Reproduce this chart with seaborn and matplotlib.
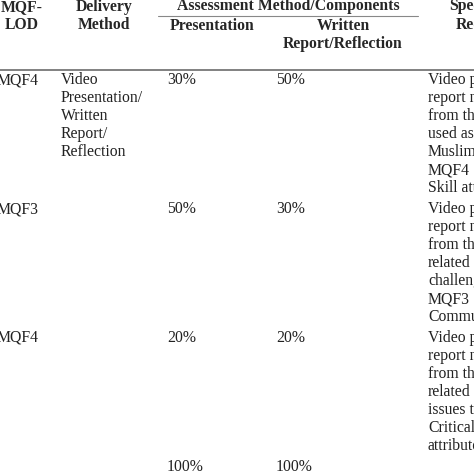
import matplotlib
matplotlib.use("Agg")
import matplotlib.pyplot as plt
import seaborn as sns

sns.set_theme(style="white")
plt.rcParams['font.family'] = ['Liberation Serif', 'DejaVu Serif']

lod = ["MQF4", "MQF3", "MQF4"]
delivery = ["Video\nPresentation/\nWritten\nReport/\nReflection", "", ""]
presentation = ["30%", "50%", "20%"]
written = ["50%", "30%", "20%"]
totals = ["100%", "100%"]
specific = [
    ["Video presentation and", "report must be", "from the topic", "used as", "Muslim", "MQF4", "Skill attribute"],
    ["Video presentation and", "report must be", "from the topic", "related", "challenges", "MQF3", "Communication"],
    ["Video presentation and", "report must be", "from the topic", "related", "issues to", "Critical", "attribute"],
]
row_y = [80, 209, 338]

fig = plt.figure(figsize=(4.74, 4.74), dpi=100)
ax = fig.add_axes([0, 0, 1, 1])
ax.set_xlim(0, 474)
ax.set_ylim(474, 0)
ax.axis("off")

fs = 11.3
hb = dict(fontsize=fs, fontweight="bold", va="center", linespacing=1.2, clip_on=True)
ax.text(22, 16, "MQF-\nLOD", ha="center", **hb)
ax.text(104, 16, "Delivery\nMethod", ha="center", **hb)
ax.text(288, 6, "Assessment Method/Components", ha="center", **hb)
ax.text(212, 26, "Presentation", ha="center", **hb)
ax.text(343, 35, "Written\nReport/Reflection", ha="center", **hb)
ax.text(449, 6, "Specific", ha="left", **hb)
ax.text(456, 25, "Requirement", ha="left", **hb)
ax.plot([158, 418], [15.5, 15.5], color="#888888", lw=0.8)
ax.plot([0, 474], [69.5, 69.5], color="#777777", lw=1.3)

tb = dict(fontsize=fs, va="top", linespacing=1.17, clip_on=True, color="#222222")
for i in range(3):
    y = row_y[i] - 8
    ax.text(-3, y, lod[i], **tb)
    ax.text(61, y, delivery[i], **tb)
    ax.text(167, y, presentation[i], **tb)
    ax.text(276, y, written[i], **tb)
    ax.text(428, y, "\n".join(specific[i]), **tb)
ax.text(167, 459, totals[0], **tb)
ax.text(276, 459, totals[1], **tb)

fig.savefig("out.png", dpi=100)
